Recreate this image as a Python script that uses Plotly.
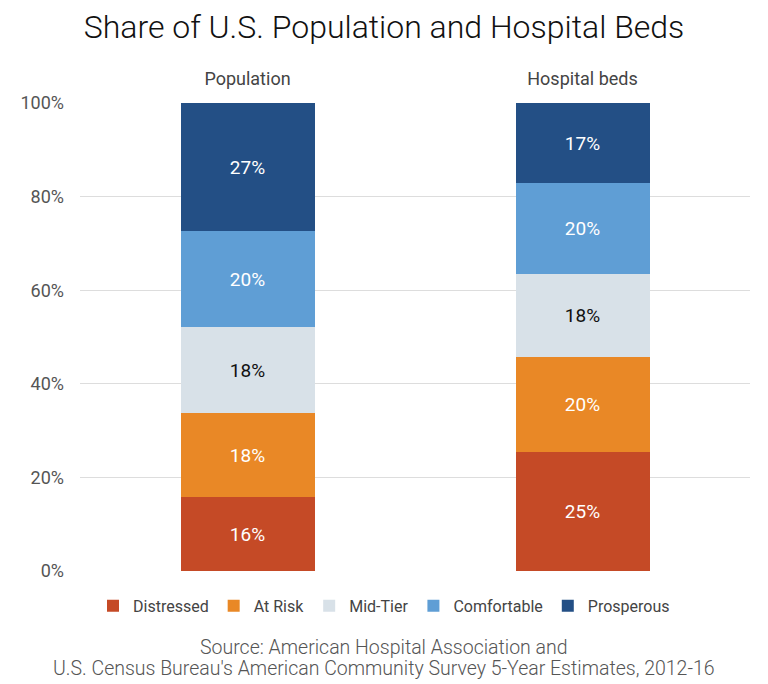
import plotly.graph_objects as go

categories = ["Population", "Hospital beds"]
series_names = ["Distressed", "At Risk", "Mid-Tier", "Comfortable", "Prosperous"]
distressed = [15.8, 25.5]
at_risk = [17.9, 20.3]
mid_tier = [18.4, 17.7]
comfortable = [20.5, 19.4]
prosperous = [27.4, 17.1]
labels = {
    "Distressed": ["16%", "25%"],
    "At Risk": ["18%", "20%"],
    "Mid-Tier": ["18%", "18%"],
    "Comfortable": ["20%", "20%"],
    "Prosperous": ["27%", "17%"],
}
y_ticks = [0, 20, 40, 60, 80, 100]
y_tick_labels = ["0%", "20%", "40%", "60%", "80%", "100%"]
source_lines = ["Source: American Hospital Association and",
                "U.S. Census Bureau's American Community Survey 5-Year Estimates, 2012-16"]

colors = ["#c54a26", "#e98826", "#d8e1e8", "#5f9ed5", "#234f85"]
text_colors = ["white", "white", "#111111", "white", "white"]
values = [distressed, at_risk, mid_tier, comfortable, prosperous]

FONT = "Roboto, Lato, sans-serif"
# page body has an 8px margin, so the figure is laid out 8px up/left of target
L, T, PW, PH = 72, 95, 670, 468
CENTER_X = (376 - L) / PW  # page centre expressed in plot-area fraction

fig = go.Figure()
for name, vals, col, tcol in zip(series_names, values, colors, text_colors):
    fig.add_trace(go.Bar(
        name=name, x=categories, y=vals,
        marker=dict(color=col, line=dict(width=0)),
        text=labels[name], textposition="inside", insidetextanchor="middle",
        textfont=dict(color=tcol, size=19, family=FONT),
        hoverinfo="skip",
    ))

fig.update_layout(
    width=768, height=684,
    barmode="stack", bargap=0.6,
    plot_bgcolor="white", paper_bgcolor="white",
    margin=dict(l=L, r=768 - L - PW, t=T, b=684 - T - PH, autoexpand=False),
    font=dict(family=FONT, color="#444444"),
    title=dict(text="Share of U.S. Population and Hospital Beds", x=376 / 768, xanchor="center",
               xref="container", yref="container",
               y=0.973, yanchor="middle", font=dict(size=32, color="#111111", family=FONT, weight=300)),
    xaxis=dict(side="top", showline=False, ticks="", showgrid=False, automargin=False,
               ticklabelstandoff=13,
               tickfont=dict(size=18, color="#444444")),
    yaxis=dict(range=[0, 100], tickvals=y_ticks, ticktext=y_tick_labels,
               showgrid=True, gridcolor="#dddddd", gridwidth=1, zeroline=False,
               showline=False, ticks="", ticklabelstandoff=15, automargin=False,
               tickfont=dict(size=18, color="#555555")),
    legend=dict(orientation="h", x=CENTER_X, xanchor="center", y=-0.038, yanchor="top",
                traceorder="normal", font=dict(size=16, color="#444444"),
                itemwidth=30),
    uniformtext=dict(mode="show", minsize=19),
    annotations=[
        dict(text=source_lines[0], x=CENTER_X, xref="paper", xanchor="center",
             y=-0.1645, yref="paper", yanchor="middle", showarrow=False,
             font=dict(size=19.5, color="#555555", family=FONT, weight=300)),
        dict(text=source_lines[1], x=CENTER_X, xref="paper", xanchor="center",
             y=-0.2094, yref="paper", yanchor="middle", showarrow=False,
             font=dict(size=19.5, color="#555555", family=FONT, weight=300)),
    ],
)

fig.write_html("out.html")
